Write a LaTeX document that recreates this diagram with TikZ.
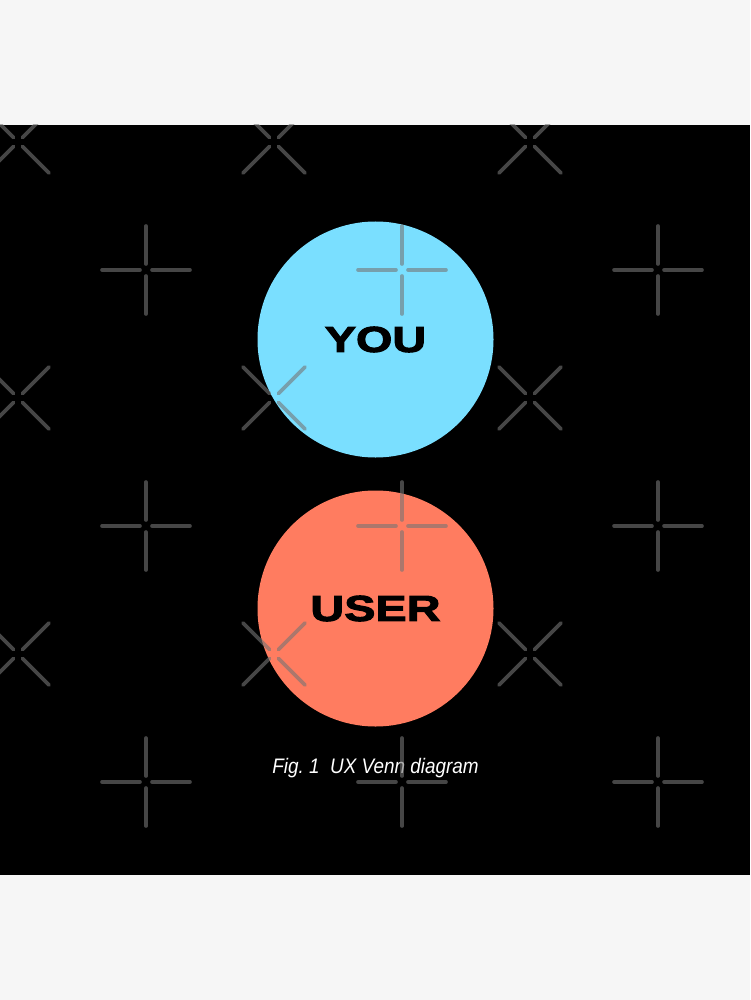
\documentclass[tikz,border=0pt]{standalone}
\usepackage{fontspec}
\setmainfont{Liberation Sans}
\newfontfamily\heavyfont[FakeStretch=1.3,FakeBold=3]{Liberation Sans}
\newfontfamily\capfont[FakeStretch=0.9]{Liberation Sans}
\definecolor{bandgray}{RGB}{246,246,246}
\definecolor{youblue}{RGB}{122,223,255}
\definecolor{userorange}{RGB}{255,124,96}
\definecolor{crossgray}{RGB}{117,117,117}
\tikzset{
  crossline/.style={draw=crossgray, draw opacity=0.6, line width=3.6pt, line cap=round},
  bubble/.style={circle, inner sep=0pt, minimum size=236pt, draw=none, text=black,
    font={\heavyfont\bfseries\fontsize{36}{36}\selectfont}},
  plusmark/.pic={
    \draw[crossline] (0,6) -- (0,44);
    \draw[crossline] (0,-6) -- (0,-44);
    \draw[crossline] (6,0) -- (44,0);
    \draw[crossline] (-6,0) -- (-44,0);
  },
  xmark/.pic={
    \draw[crossline] (4.5,4.5) -- (31,31);
    \draw[crossline] (-4.5,4.5) -- (-31,31);
    \draw[crossline] (4.5,-4.5) -- (31,-31);
    \draw[crossline] (-4.5,-4.5) -- (-31,-31);
  }
}
\begin{document}
\begin{tikzpicture}[x=1pt,y=-1pt]
  \useasboundingbox (0,0) rectangle (750,1000);
  \fill[bandgray] (0,0) rectangle (750,1000);
  \fill[black] (0,125) rectangle (750,875);
  \node[bubble, fill=youblue] (you) at (375.5,339.5) {YOU};
  \node[bubble, fill=userorange] (user) at (375.5,608.5) {USER};
  \node[anchor=base, text=white, inner sep=0pt,
        font={\capfont\itshape\fontsize{21}{21}\selectfont}] (caption) at (375.5,773)
        {Fig.~1\hspace{0.5em}UX Venn diagram};
  \begin{scope}
    \clip (0,125) rectangle (750,875);
    \foreach \cx in {146,402,658}
      \foreach \cy in {270,526,782}
        \pic at (\cx,\cy) {plusmark};
    \foreach \cx in {18,274,530}
      \foreach \cy in {142,398,654}
        \pic at (\cx,\cy) {xmark};
  \end{scope}
\end{tikzpicture}
\end{document}
